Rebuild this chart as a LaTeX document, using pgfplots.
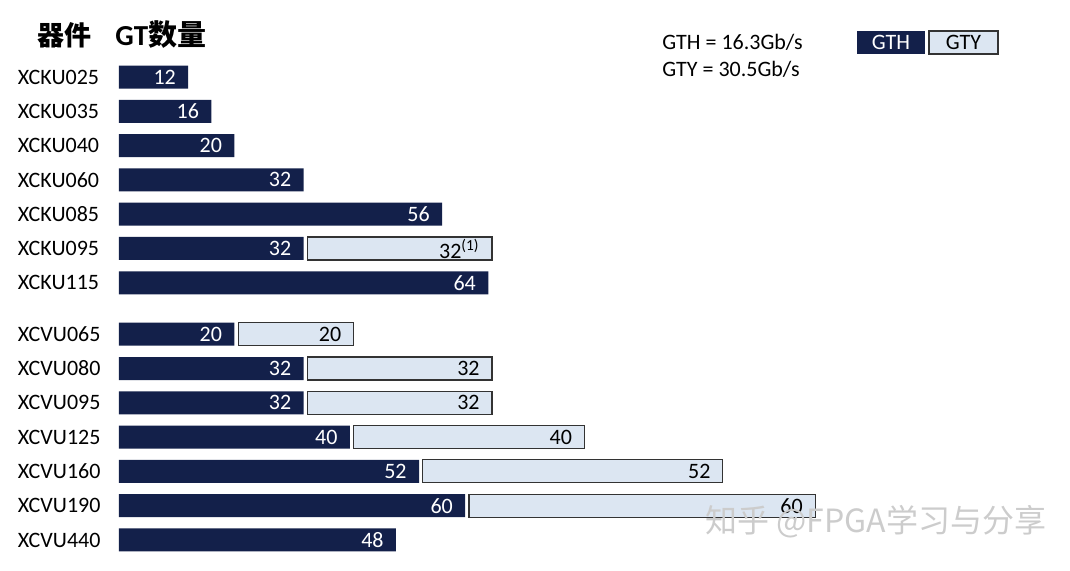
\documentclass[border=0pt]{standalone}
\usepackage{pgfplots}
\pgfplotsset{compat=1.18}
\usepackage{pgfplotstable}
\usepackage{fontspec}
\setmainfont{Carlito}
\newfontfamily\cjk{Noto Sans CJK SC}

\definecolor{gthc}{RGB}{19,32,74}
\definecolor{gtyc}{RGB}{220,230,242}
\protected\def\kufn{32\textsuperscript{(1)}}

% GTH transceivers, all devices (row positions leave a gap between KU and VU)
\pgfplotstableread{
y    gth
0    12
1    16
2    20
3    32
4    56
5    32
6    64
7.5  20
8.5  32
9.5  32
10.5 40
11.5 52
12.5 60
13.5 48
}\gthdata

% GTY transceivers, only devices that have them
\pgfplotstableread{
y    gth gty lab
5    32  32  \kufn
7.5  20  20  20
8.5  32  32  32
9.5  32  32  32
10.5 40  40  40
11.5 52  52  52
12.5 60  60  60
}\gtydata

\tikzset{lblfont/.style={font=\fontsize{11}{13}\selectfont}}
\pgfplotsset{
  chartbase/.style={
    scale only axis, width=432.75pt, height=279.5pt,
    xmin=0, xmax=150, ymin=-2, ymax=14.3, y dir=reverse,
    axis line style={draw=none}, tick style={draw=none},
    xtick=\empty, clip=false,
    /pgf/number format/assume math mode=true,
    bar width=11.5pt,
  },
  endlabel/.style={every node near coord/.append style={anchor=east, inner sep=0pt, xshift=-6pt, text=#1, lblfont}},
}

\begin{document}
\begin{tikzpicture}
% stacked GTY bars, drawn after an invisible GTH+gap spacer
\begin{axis}[chartbase, xbar stacked, ytick=\empty]
\addplot[fill=none, draw=none] table[x expr=\thisrow{gth}+0.65, y=y] {\gtydata};
\addplot[fill=gtyc, draw=black!80, line width=0.6pt] table[x=gty, y=y] {\gtydata};
\end{axis}

\begin{axis}[
  chartbase, xbar, bar shift=0pt,
  ytick={0,1,2,3,4,5,6,7.5,8.5,9.5,10.5,11.5,12.5,13.5},
  yticklabels={XCKU025,XCKU035,XCKU040,XCKU060,XCKU085,XCKU095,XCKU115,
               XCVU065,XCVU080,XCVU095,XCVU125,XCVU160,XCVU190,XCVU440},
  yticklabel style={anchor=west, inner sep=0pt, xshift=-46.5pt, lblfont},
]
\addplot[fill=gthc, draw=none, point meta=x, nodes near coords, endlabel=white]
  table[x=gth, y=y] {\gthdata};
% GTY value labels at the end of each GTY bar
\addplot[fill=none, draw=none, point meta=explicit symbolic, nodes near coords, endlabel=black]
  table[x expr=\thisrow{gth}+0.65+\thisrow{gty}, y=y, meta=lab] {\gtydata};
\end{axis}

\begin{scope}[x=0.5pt, y=-0.5pt, shift={(-59.5pt,283.7pt)}]
  \node[anchor=base west, inner sep=0pt, font=\cjk\bfseries\fontsize{13.5}{16}\selectfont] at (37,45) {器件};
  \node[anchor=base west, inner sep=0pt, font=\bfseries\fontsize{14.5}{17}\selectfont] at (115,45) {GT{\cjk 数量}};
  \node[anchor=base west, inner sep=0pt, lblfont] at (662,49) {GTH = 16.3Gb/s};
  \node[anchor=base west, inner sep=0pt, lblfont] at (662,76) {GTY = 30.5Gb/s};
  \fill[gthc] (857,31) rectangle (925,54);
  \node[text=white, lblfont] at (891,42.5) {GTH};
  \filldraw[fill=gtyc, draw=black!80, line width=0.6pt] (929,31) rectangle (998,54);
  \node[lblfont] at (963.5,42.5) {GTY};
  \node[anchor=west, inner sep=0pt, font=\cjk\fontsize{16}{19}\selectfont, text=gray!40] at (705,522) {知乎 @FPGA学习与分享};
\end{scope}

\pgfresetboundingbox
\path[use as bounding box] (-59.5pt,283.7pt) rectangle (475.5pt,-1.3pt);
\end{tikzpicture}
\end{document}
